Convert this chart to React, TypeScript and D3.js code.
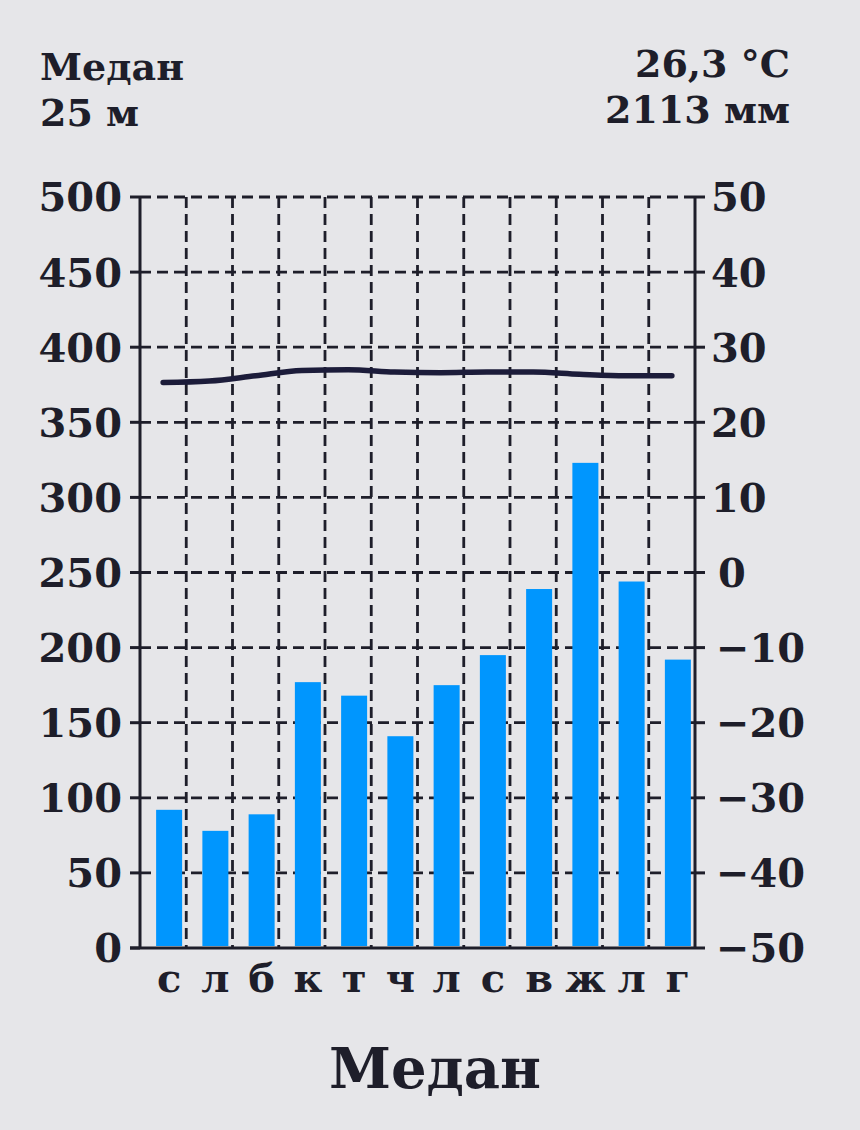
import React from 'react'
import { scaleBand, scaleLinear, line, curveMonotoneX, range } from 'd3'

// climate diagram for Medan
const months = ['с', 'л', 'б', 'к', 'т', 'ч', 'л', 'с', 'в', 'ж', 'л', 'г']
const precipitation = [92, 78, 89, 177, 168, 141, 175, 195, 239, 323, 244, 192]
const temperature = [25.3, 25.5, 26.2, 26.9, 27.0, 26.7, 26.6, 26.7, 26.7, 26.4, 26.2, 26.2]
const precTicks = [0, 50, 100, 150, 200, 250, 300, 350, 400, 450, 500]
const tempTicks = [-50, -40, -30, -20, -10, 0, 10, 20, 30, 40, 50]
const header = { station: 'Медан', height: '25 м', meanTemp: '26,3 °С', totalPrec: '2113 мм' }

const ink = '#1e1e2a'
const font = '"DejaVu Serif", "Liberation Serif", serif'

const App = () => {
  const left = 140
  const right = 695
  const top = 197
  const bottom = 948

  const scaleX = scaleBand<number>().domain(range(months.length)).range([left, right])
  const scaleP = scaleLinear().domain([0, 500]).range([bottom, top])
  const scaleT = scaleLinear().domain([-50, 50]).range([bottom, top])
  const bw = scaleX.bandwidth()
  const barW = 26

  const tempLine = line<number>()
    .x((_, i) => scaleX(i)! + bw / 2)
    .y((d) => scaleT(d))
    .curve(curveMonotoneX)

  return (
    <svg width={860} height={1130} style={{ position: 'absolute', left: 0, top: 0 }}>
      <rect width={860} height={1130} fill="#e6e6e9" />

      {/* header */}
      <g fill={ink} fontFamily={font} fontSize={38} fontWeight="bold">
        <text x={40} y={80}>{header.station}</text>
        <text x={40} y={126}>{header.height}</text>
        <text x={790} y={77} textAnchor="end">{header.meanTemp}</text>
        <text x={790} y={123} textAnchor="end">{header.totalPrec}</text>
      </g>

      {/* grid */}
      <g stroke={ink} strokeWidth={2.8} strokeDasharray="11 6" fill="none">
        {precTicks.filter((t) => t > 0).map((t) => (
          <line key={`h-${t}`} x1={left} x2={right} y1={scaleP(t)} y2={scaleP(t)} />
        ))}
        {range(1, months.length).map((i) => (
          <line key={`v-${i}`} x1={scaleX(i)} x2={scaleX(i)} y1={top} y2={bottom} />
        ))}
      </g>

      {/* bars */}
      {precipitation.map((v, i) => (
        <rect
          key={`bar-${i}`}
          x={scaleX(i)! + (bw - barW) / 2 + 6}
          y={scaleP(v)}
          width={barW}
          height={bottom - 2 - scaleP(v)}
          fill="#0096fe"
        />
      ))}

      {/* temperature */}
      <path d={tempLine(temperature) ?? ''} fill="none" stroke="#1c1c3a" strokeWidth={5.5} strokeLinecap="round" />

      {/* axes */}
      <g stroke={ink} strokeWidth={3}>
        <line x1={left} x2={left} y1={top} y2={bottom} />
        <line x1={right} x2={right} y1={top} y2={bottom} />
        <line x1={left - 10} x2={right} y1={bottom} y2={bottom} />
        {precTicks.map((t) => (
          <line key={`lt-${t}`} x1={left - 10} x2={left} y1={scaleP(t)} y2={scaleP(t)} />
        ))}
        {tempTicks.map((t) => (
          <line key={`rt-${t}`} x1={right} x2={right + 10} y1={scaleT(t)} y2={scaleT(t)} />
        ))}
      </g>

      <g fill={ink} fontFamily={font} fontSize={40} fontWeight="bold">
        {precTicks.map((t) => (
          <text key={`ll-${t}`} x={122} y={scaleP(t)} dy="0.36em" textAnchor="end">{t}</text>
        ))}
        {tempTicks.map((t) => (
          <text key={`rl-${t}`} x={t < 0 ? 716 : t === 0 ? 718 : 711} y={scaleT(t)} dy="0.36em">
            {t < 0 ? `−${-t}` : t}
          </text>
        ))}
        {months.map((m, i) => (
          <text key={`m-${i}`} x={scaleX(i)! + bw / 2 + 6} y={992} textAnchor="middle" fontSize={40}>{m}</text>
        ))}
      </g>

      <text x={435} y={1088} textAnchor="middle" fill={ink} fontFamily={font} fontSize={56} fontWeight="bold">
        {header.station}
      </text>
    </svg>
  )
}

export default App
